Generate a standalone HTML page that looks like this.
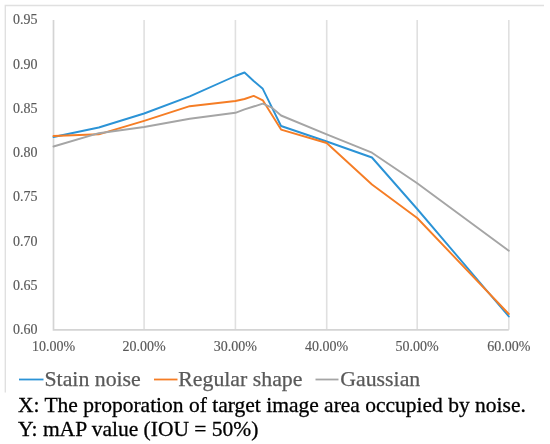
<!DOCTYPE html>
<html><head><meta charset="utf-8"><style>
html,body{margin:0;padding:0;background:#fff;}
svg{display:block;}
.ax text{font-family:"Liberation Serif","Times New Roman",serif;font-size:14px;fill:#595959;stroke:#595959;stroke-width:0.15px;}
.lg text{font-family:"Liberation Serif","Times New Roman",serif;font-size:21.8px;fill:#595959;stroke:#595959;stroke-width:0.25px;}
.cap text{font-family:"Liberation Serif","Times New Roman",serif;font-size:21.5px;fill:#000;stroke:#000;stroke-width:0.3px;}
</style></head><body>
<svg width="550" height="444" viewBox="0 0 550 444">
<rect x="0" y="0" width="550" height="444" fill="#fff"/>
<path d="M5.3,392.5 V5.5 H544" fill="none" stroke="#e0e0e0" stroke-width="1.4"/>
<g stroke="#e0e0e0" stroke-width="1.6"><line x1="144.10" y1="20" x2="144.10" y2="329.8" /><line x1="235.40" y1="20" x2="235.40" y2="329.8" /><line x1="326.70" y1="20" x2="326.70" y2="329.8" /><line x1="417.20" y1="20" x2="417.20" y2="329.8" /><line x1="508.80" y1="20" x2="508.80" y2="329.8" /></g>
<path d="M53.50,20 V329.8 H508.80" fill="none" stroke="#d4d4d4" stroke-width="1.7"/>
<g fill="none" stroke-width="1.9" stroke-linejoin="round" stroke-linecap="round">
<polyline points="53.50,137.00 98.80,127.50 144.10,113.50 189.75,96.40 235.40,76.00 244.53,72.50 253.66,81.00 262.79,88.80 281.05,126.00 326.70,141.50 371.95,157.50 417.20,209.00 508.80,316.50" stroke="#2b93d6"/>
<polyline points="53.50,136.00 98.80,134.30 144.10,120.80 189.75,106.20 235.40,101.00 244.53,99.00 253.66,95.90 262.79,100.30 281.05,129.60 326.70,143.00 371.95,184.50 417.20,218.00 508.80,314.00" stroke="#f57d25"/>
<polyline points="53.50,146.50 98.80,133.20 144.10,127.00 189.75,118.80 235.40,112.80 244.53,109.40 253.66,106.50 262.79,103.70 271.92,107.60 281.05,115.50 326.70,134.30 371.95,152.70 417.20,183.20 508.80,250.70" stroke="#a5a5a5"/>
</g>
<g class="ax" text-anchor="end"><text x="37.5" y="24.30">0.95</text><text x="37.5" y="68.56">0.90</text><text x="37.5" y="112.81">0.85</text><text x="37.5" y="157.07">0.80</text><text x="37.5" y="201.33">0.75</text><text x="37.5" y="245.59">0.70</text><text x="37.5" y="289.84">0.65</text><text x="37.5" y="334.10">0.60</text></g>
<g class="ax" text-anchor="middle"><text x="53.50" y="351.3">10.00%</text><text x="144.10" y="351.3">20.00%</text><text x="235.40" y="351.3">30.00%</text><text x="326.70" y="351.3">40.00%</text><text x="417.20" y="351.3">50.00%</text><text x="508.80" y="351.3">60.00%</text></g>
<g class="lg">
<line x1="19" y1="379.5" x2="43.5" y2="379.5" stroke="#2b93d6" stroke-width="1.8"/>
<text x="44.5" y="386">Stain noise</text>
<line x1="154" y1="379.5" x2="177.5" y2="379.5" stroke="#f57d25" stroke-width="1.8"/>
<text x="178.3" y="386">Regular shape</text>
<line x1="315.5" y1="379.5" x2="338.5" y2="379.5" stroke="#a5a5a5" stroke-width="1.8"/>
<text x="340.3" y="386">Gaussian</text>
</g>
<g class="cap">
<text x="18" y="412">X: The proporation of target image area occupied by noise.</text>
<text x="18" y="436">Y: mAP value (IOU = 50%)</text>
</g>
</svg>
</body></html>
